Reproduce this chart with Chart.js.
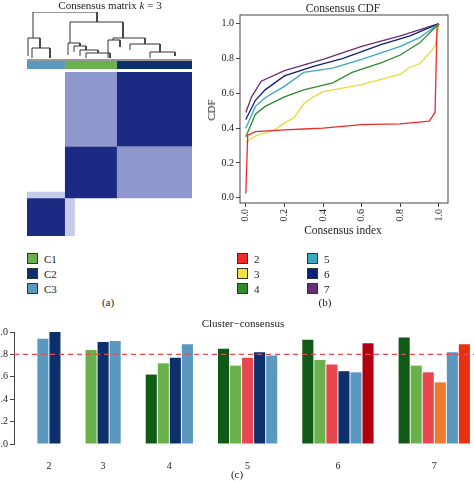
<!DOCTYPE html>
<html><head><meta charset="utf-8">
<script src="https://cdn.jsdelivr.net/npm/chart.js@4"></script>
<style>
body{margin:0;background:#fff;width:474px;height:482px;overflow:hidden;position:relative;font-family:"Liberation Serif","DejaVu Serif",serif;color:#222}
canvas{position:absolute}
.t{position:absolute;font-size:11px;white-space:nowrap;transform:translateX(-50%)}
.lg{position:absolute;font-size:11px;line-height:15px}
.lg span{display:inline-block;width:9px;height:9px;border:1px solid #333;margin-right:6px;vertical-align:-1px}
</style></head><body>
<div style="position:absolute;left:0;top:0;width:237px;height:245px"><canvas id="ca"></canvas></div>
<div style="position:absolute;left:200px;top:0;width:274px;height:245px"><canvas id="cb"></canvas></div>
<div style="position:absolute;left:0;top:315px;width:474px;height:160px"><canvas id="cc"></canvas></div>
<div class="t" style="left:110px;top:-1px;font-size:11px;line-height:12px">Consensus matrix <i>k</i> = 3</div>
<div class="t" style="left:343px;top:2px;font-size:11.5px">Consensus CDF</div>
<div class="t" style="left:343px;top:224px;font-size:11.5px">Consensus index</div>
<div class="t" style="left:211px;top:104px;transform:translateX(-50%) rotate(-90deg)">CDF</div>
<div class="lg" style="left:27px;top:252px"><div><span style="background:#6ab04c"></span>C1</div><div><span style="background:#0d2f6b"></span>C2</div><div><span style="background:#5a98c0"></span>C3</div></div>
<div class="lg" style="left:237px;top:252px"><div><span style="background:#ee2a2a"></span>2</div><div><span style="background:#f0e040"></span>3</div><div><span style="background:#2e8b2e"></span>4</div></div>
<div class="lg" style="left:307px;top:252px"><div><span style="background:#3aa8c0"></span>5</div><div><span style="background:#0a2080"></span>6</div><div><span style="background:#6a2a7a"></span>7</div></div>
<div class="t" style="left:108px;top:296px">(a)</div>
<div class="t" style="left:325px;top:296px">(b)</div>
<div class="t" style="left:237px;top:468px">(c)</div>
<script>
// ---- panel a: consensus matrix (cluster boundaries as sample fractions)
var clusterEdges = [0, 0.23, 0.545, 1];
var clusterColors = ['#5a98c0', '#6ab04c', '#0d2f6b'];
var DARK = '#1b2a82', LIGHT = '#8f97cf', PALE = '#c5cae8';
// off-diagonal light blocks: [colCluster, rowCluster, colour]
var offBlocks = [[1, 2, LIGHT], [2, 1, LIGHT], [0, 1, PALE], [1, 0, PALE]];
// dendrogram merges in pixel-row units: [xLeft, xRight, yLeftBottom, yRightBottom, yTop]
var merges = [[33,97,38,22,12],[28,40,56,48,38],[32,50,58,58,48],[70,123,43,38,22],[68,80,55,46,43],
  [74,86,52,50,46],[80,98,56,53,50],[86,110,58,58,53],[113,145,40,44,38],[108,120,58,47,40],
  [130,160,50,52,44],[150,175,58,56,52]];
var cdfX = {
  2: [0,0.01,0.05,0.2,0.3,0.4,0.6,0.8,0.95,0.98,0.99,1],
  3: [0,0.05,0.15,0.2,0.25,0.3,0.35,0.4,0.5,0.6,0.7,0.8,0.85,0.9,0.95,0.98,1],
  4: [0,0.05,0.1,0.2,0.3,0.45,0.55,0.7,0.8,0.9,1],
  5: [0,0.05,0.1,0.2,0.3,0.45,0.6,0.8,0.9,1],
  6: [0,0.05,0.1,0.2,0.35,0.5,0.7,0.85,1],
  7: [0,0.03,0.08,0.2,0.4,0.6,0.8,1]
};
var cdfY = {
  2: [0.025,0.36,0.38,0.39,0.395,0.40,0.42,0.425,0.44,0.49,0.98,1],
  3: [0.32,0.355,0.39,0.43,0.46,0.54,0.58,0.61,0.63,0.65,0.68,0.71,0.75,0.77,0.83,0.87,1],
  4: [0.35,0.48,0.525,0.58,0.62,0.66,0.72,0.775,0.82,0.89,1],
  5: [0.40,0.525,0.575,0.64,0.72,0.745,0.795,0.87,0.92,1],
  6: [0.45,0.56,0.62,0.70,0.755,0.80,0.88,0.93,1],
  7: [0.49,0.58,0.67,0.73,0.795,0.87,0.93,1]
};
var cdfColors = {2:'#ee2a2a',3:'#e8d83a',4:'#2e8b2e',5:'#3aa8c0',6:'#0a2080',7:'#6a2a7a'};
// ---- panel c: cluster consensus
var groupK = [2, 3, 4, 5, 6, 7];
var consensus = [[0.94,1.0],[0.84,0.91,0.92],[0.62,0.72,0.77,0.89],[0.85,0.70,0.77,0.82,0.79],
  [0.93,0.75,0.71,0.65,0.64,0.90],[0.95,0.70,0.64,0.55,0.82,0.89]];
var barColors = [['#5a98c0','#0d2f6b'],['#6ab04c','#0d2f6b','#5a98c0'],['#0f5a14','#6ab04c','#0d2f6b','#5a98c0'],
  ['#0f5a14','#6ab04c','#e8474f','#0d2f6b','#5a98c0'],['#0f5a14','#6ab04c','#e8474f','#0d2f6b','#5a98c0','#b00010'],
  ['#0f5a14','#6ab04c','#e8474f','#ee7a30','#5a98c0','#e83010']];
var threshold = 0.8;

Chart.defaults.font.family = '"Liberation Serif","DejaVu Serif",serif';
Chart.defaults.color = '#222';
Chart.defaults.animation = false;

function rect(x0, x1, y0, y1, c) {
  return {data: [{x:x0,y:y0},{x:x1,y:y0},{x:x1,y:y1},{x:x0,y:y1},{x:x0,y:y0}], showLine: true,
    fill: 'shape', backgroundColor: c, borderWidth: 0, pointRadius: 0};
}
function px2x(p) { return (p - 27) / 165; }
function px2y(p) { return (236 - p) / 164; }

var aSets = [];
for (var i = 0; i < 3; i++) {
  aSets.push(rect(clusterEdges[i], clusterEdges[i+1], clusterEdges[i], clusterEdges[i+1], DARK));
  aSets.push(rect(clusterEdges[i], clusterEdges[i+1], px2y(69), px2y(61), clusterColors[i]));
}
offBlocks.forEach(function (b) {
  var c = b[0], r = b[1];
  var x0 = clusterEdges[c], x1 = clusterEdges[c+1], y0 = clusterEdges[r], y1 = clusterEdges[r+1];
  if (b[2] === PALE) { if (c === 0) { y1 = y0 + 0.04; } else { x1 = x0 + 0.06; } }
  aSets.push(rect(x0, x1, y0, y1, b[2]));
});
var dendro = [];
merges.forEach(function (m) {
  dendro.push({x:px2x(m[0]),y:px2y(m[2])},{x:px2x(m[0]),y:px2y(m[4])},{x:px2x(m[1]),y:px2y(m[4])},{x:px2x(m[1]),y:px2y(m[3])},{x:null,y:null});
});
dendro.push({x:0,y:px2y(60)},{x:1,y:px2y(60)});
aSets.push({data: dendro, showLine: true, borderColor: '#333', borderWidth: 1, pointRadius: 0, spanGaps: false});

new Chart(document.getElementById('ca'), {
  type: 'scatter',
  data: {datasets: aSets},
  options: {responsive: true, maintainAspectRatio: false,
    layout: {padding: {left: 27, right: 45, top: 12, bottom: 9}},
    plugins: {legend: {display: false}, tooltip: {enabled: false}},
    scales: {x: {display: false, min: 0, max: 1}, y: {display: false, min: 0, max: px2y(12)}}}
});

var boxPlugin = {id: 'box', afterDraw: function (c) {
  var a = c.chartArea, g = c.ctx; g.save(); g.strokeStyle = '#444'; g.lineWidth = 1;
  g.strokeRect(a.left, a.top, a.right - a.left, a.bottom - a.top); g.restore();
}};
var bSets = Object.keys(cdfX).map(function (k) {
  return {data: cdfX[k].map(function (x, j) { return {x: x, y: cdfY[k][j]}; }), showLine: true,
    borderColor: cdfColors[k], borderWidth: 1.3, pointRadius: 0, tension: 0};
});
new Chart(document.getElementById('cb'), {
  type: 'scatter',
  data: {datasets: bSets},
  plugins: [boxPlugin],
  options: {responsive: true, maintainAspectRatio: false,
    layout: {padding: {left: 0, right: 26, top: 15, bottom: 0}},
    plugins: {legend: {display: false}, tooltip: {enabled: false}},
    scales: {
      x: {min: -0.03, max: 1.047, afterFit: function (s) { s.height = 42; },
        afterBuildTicks: function (s) { s.ticks = [0,0.2,0.4,0.6,0.8,1].map(function (v) { return {value: v}; }); },
        grid: {drawOnChartArea: false, tickLength: 4, color: '#444'}, border: {display: false},
        ticks: {minRotation: 90, maxRotation: 90, font: {size: 10}, padding: 2,
          callback: function (v) { return v.toFixed(1); }}},
      y: {min: -0.03, max: 1.05, afterFit: function (s) { s.width = 40; },
        afterBuildTicks: function (s) { s.ticks = [0,0.2,0.4,0.6,0.8,1].map(function (v) { return {value: v}; }); },
        grid: {drawOnChartArea: false, tickLength: 4, color: '#444'}, border: {display: false},
        ticks: {font: {size: 10}, padding: 2, callback: function (v) { return v.toFixed(1); }}}
    }}
});

var barData = [], colors = [], centers = [], cursor = 2;
groupK.forEach(function (k, gi) {
  consensus[gi].forEach(function (v, j) { barData.push({x: cursor + j, y: v}); colors.push(barColors[gi][j]); });
  centers.push(cursor + (consensus[gi].length - 1) / 2);
  cursor += consensus[gi].length + 2;
});
var xMin = -0.4, xMax = 37.8;
new Chart(document.getElementById('cc'), {
  type: 'bar',
  data: {datasets: [
    {type: 'line', data: [{x: xMin, y: threshold}, {x: xMax, y: threshold}], borderColor: '#e8474f',
      borderDash: [5, 4], borderWidth: 1.2, pointRadius: 0},
    {data: barData, backgroundColor: colors, barPercentage: 0.92, categoryPercentage: 1}
  ]},
  options: {responsive: true, maintainAspectRatio: false,
    layout: {padding: {left: 0, right: 0, top: 17, bottom: 0}},
    plugins: {legend: {display: false}, tooltip: {enabled: false}},
    scales: {
      x: {type: 'linear', min: xMin, max: xMax, offset: false, afterFit: function (s) { s.height = 31; },
        afterBuildTicks: function (s) { s.ticks = centers.map(function (v) { return {value: v}; }); },
        grid: {display: false}, border: {display: false},
        ticks: {font: {size: 10}, padding: 8, callback: function (v) { return groupK[centers.indexOf(v)]; }}},
      y: {min: 0, max: 1, afterFit: function (s) { s.width = 14; },
        afterBuildTicks: function (s) { s.ticks = [0,0.2,0.4,0.6,0.8,1].map(function (v) { return {value: v}; }); },
        grid: {drawOnChartArea: false, tickLength: 4, color: '#444'}, border: {display: true, color: '#444'},
        ticks: {font: {size: 10}, padding: 2, callback: function (v) { return v.toFixed(1); }}}
    }}
});
</script>
<div class="t" style="left:243px;top:317px">Cluster−consensus</div>
</body></html>
